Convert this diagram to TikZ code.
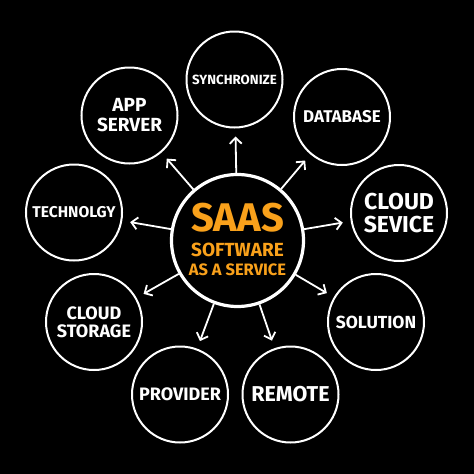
\documentclass[tikz,border=0pt]{standalone}
\usepackage{fontspec}
\setmainfont{Fira Sans}
\usepackage{tikz}
\usetikzlibrary{positioning,arrows.meta}
\definecolor{saasorange}{HTML}{F9A11B}

\begin{document}
\begin{tikzpicture}[x=1pt, y=-1pt,
    hub/.style={circle, draw=white, line width=3.2pt, minimum size=132pt, inner sep=0pt},
    spoke/.style={circle, draw=white, line width=2pt, minimum size=96pt, inner sep=0pt, align=center, text=white, font=\bfseries\fontsize{17}{19}\selectfont},
    bigtitle/.style={text=saasorange, font=\bfseries\fontsize{40}{40}\selectfont, inner sep=0pt},
    subtitle/.style={text=saasorange, font=\bfseries\fontsize{19}{19}\selectfont, inner sep=0pt},
    arrowline/.style={draw=white, line width=1.8pt, -{Straight Barb[length=6pt, width=12pt]}, shorten >=8pt},
]

% Background
\fill[black] (0,0) rectangle (474,474);

% Center
\node[hub] (saas) at (237.5,240.5) {};
\node[bigtitle] (saastitle) at (237.5,218) {SAAS};
\node[subtitle] (saassub) at (237.5,249.5) {SOFTWARE};
\node[subtitle, font=\bfseries\fontsize{16.5}{17}\selectfont] (saasservice) at (237.5,270) {AS A SERVICE};

% Outer ring
\node[spoke, font=\bfseries\fontsize{13.3}{15}\selectfont] (synch) at (234.5,79.5) {SYNCHRONIZE};
\node[spoke, font=\bfseries\fontsize{19}{20}\selectfont] (appserver) at (129.5,115.5) {APP\\SERVER};
\node[spoke] (database) at (342,117) {DATABASE};
\node[spoke, font=\bfseries\fontsize{15.6}{17}\selectfont] (technology) at (74,212.5) {TECHNOLGY};
\node[spoke, font=\bfseries\fontsize{23}{23}\selectfont] (cloudsvc) at (399,213) {CLOUD\\SEVICE};
\node[spoke, font=\bfseries\fontsize{18}{18}\selectfont] (storage) at (94,322) {CLOUD\\STORAGE};
\node[spoke, font=\bfseries\fontsize{17.5}{19}\selectfont] (solution) at (376,322) {SOLUTION};
\node[spoke, font=\bfseries\fontsize{18}{20}\selectfont] (provider) at (180,394.5) {PROVIDER};
\node[spoke, font=\bfseries\fontsize{21.5}{23}\selectfont] (remote) at (290.5,394.5) {REMOTE};

% Arrows
\foreach \target in {synch, appserver, database, technology, cloudsvc, storage, solution, provider, remote}
    \draw[arrowline] (saas) -- (\target);

\end{tikzpicture}
\end{document}
